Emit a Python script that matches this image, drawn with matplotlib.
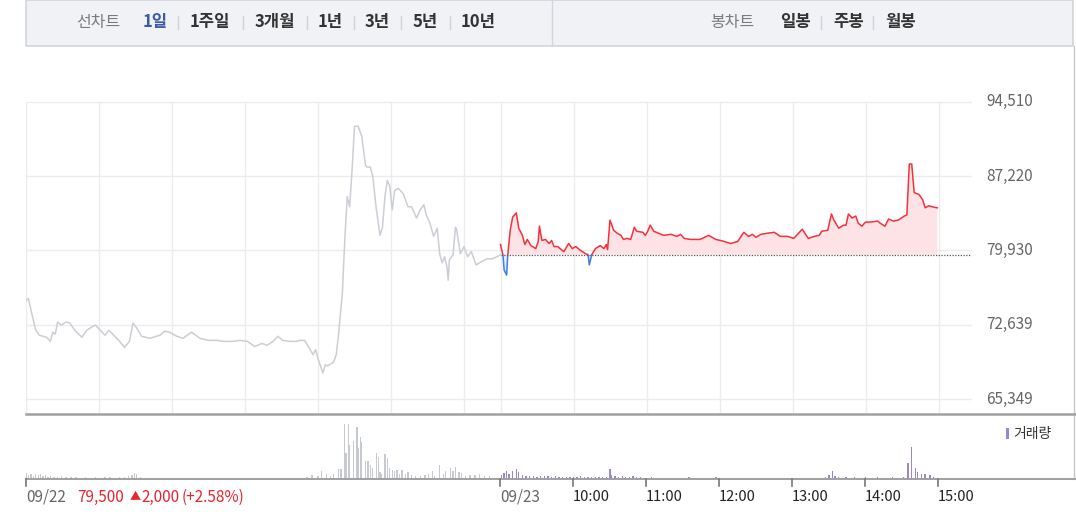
import matplotlib
matplotlib.use("Agg")
import matplotlib.pyplot as plt
from matplotlib.patches import Rectangle
import numpy as np

plt.rcParams['font.family'] = ['Noto Sans CJK KR', 'DejaVu Sans']

# ---- data ----
prev_close = 79500
y_ticks = [65349, 72639, 79930, 87220, 94510]

day1_times = ["09:00", "09:02", "09:05", "09:08", "09:11", "09:17", "09:20", "09:22", "09:24", "09:26",
              "09:29", "09:33", "09:36", "09:40", "09:46", "09:50", "09:54", "09:57", "10:01", "10:05",
              "10:08", "10:13", "10:17", "10:21", "10:25", "10:28", "10:31", "10:35", "10:42", "10:47",
              "10:50", "10:54", "10:58", "11:04", "11:09", "11:16", "11:23", "11:30", "11:37", "11:42",
              "11:50", "11:56", "12:02", "12:08", "12:14", "12:18", "12:23", "12:27", "12:31", "12:37",
              "12:42", "12:45", "12:49", "12:52", "12:56", "12:58", "13:00", "13:04", "13:06", "13:08",
              "13:13", "13:15", "13:17", "13:20", "13:22", "13:24", "13:26", "13:28", "13:30", "13:33",
              "13:36", "13:39", "13:40", "13:43", "13:45", "13:48", "13:51", "13:53", "13:55", "13:57",
              "13:59", "14:01", "14:03", "14:06", "14:10", "14:14", "14:17", "14:21", "14:24", "14:27",
              "14:29", "14:32", "14:35", "14:38", "14:40", "14:42", "14:44", "14:46", "14:47", "14:48",
              "14:51", "14:53", "14:54", "14:57", "15:00", "15:03", "15:06", "15:10", "15:14", "15:19",
              "15:23", "15:27", "15:30"]
day1_prices = [75000, 75200, 73600, 72100, 71600, 71400, 71000, 71900, 71700, 72900,
               72600, 72900, 72800, 72100, 71400, 72100, 72400, 72600, 72100, 71600,
               72100, 71500, 71000, 70400, 71000, 72800, 72300, 71500, 71300, 71500,
               71600, 72000, 71900, 71500, 71300, 71900, 71300, 71100, 71100, 71000,
               71000, 71100, 71000, 70500, 70800, 70600, 71000, 71500, 71100, 71000,
               71000, 71100, 71100, 70500, 69700, 70200, 69300, 67900, 68700, 68600,
               69000, 69700, 71800, 75700, 80900, 85200, 84200, 87800, 92100, 92100,
               91100, 88300, 88100, 88100, 87200, 83900, 81400, 82200, 85200, 86800,
               86200, 83900, 85800, 86000, 85500, 84200, 84200, 83100, 83900, 84400,
               83400, 82600, 81300, 82100, 79600, 78700, 79300, 78300, 77000, 79000,
               79500, 82200, 81900, 79600, 80300, 79300, 79800, 78500, 78800, 79100,
               79100, 79300, 79500]

day2_times = ["09:00", "09:02", "09:03", "09:05", "09:06", "09:08", "09:10", "09:13", "09:15", "09:18",
              "09:20", "09:22", "09:25", "09:29", "09:31", "09:32", "09:34", "09:37", "09:40", "09:42",
              "09:44", "09:47", "09:49", "09:52", "09:56", "09:59", "10:02", "10:06", "10:10", "10:12",
              "10:13", "10:15", "10:18", "10:22", "10:25", "10:27", "10:28", "10:30", "10:33", "10:36",
              "10:39", "10:41", "10:44", "10:47", "10:50", "10:52", "10:57", "10:59", "11:01", "11:03",
              "11:06", "11:10", "11:14", "11:20", "11:25", "11:28", "11:31", "11:36", "11:44", "11:51",
              "11:57", "12:04", "12:09", "12:15", "12:20", "12:24", "12:27", "12:30", "12:34", "12:39",
              "12:45", "12:50", "12:56", "13:01", "13:08", "13:13", "13:18", "13:22", "13:24", "13:29",
              "13:32", "13:34", "13:38", "13:42", "13:44", "13:46", "13:49", "13:52", "13:54", "13:57",
              "14:00", "14:04", "14:10", "14:12", "14:16", "14:19", "14:23", "14:27", "14:32", "14:34",
              "14:36", "14:38", "14:40", "14:44", "14:47", "14:49", "14:52", "14:55", "14:59"]
day2_prices = [80500, 79500, 78000, 77500, 79500, 81900, 83200, 83600, 82100, 81400,
               80500, 81000, 80400, 80100, 80800, 82300, 80900, 81000, 80600, 80900,
               80300, 80300, 80100, 79800, 80600, 80100, 80300, 79900, 79600, 79500,
               78500, 79500, 80100, 80400, 80100, 80500, 80000, 82900, 81900, 81600,
               81400, 81000, 81100, 81000, 82200, 81800, 81700, 81400, 81800, 82400,
               81800, 81600, 81400, 81500, 81300, 81500, 81100, 81000, 81000, 81400,
               81000, 80800, 80600, 80800, 81700, 81300, 81500, 81200, 81500, 81600,
               81700, 81300, 81300, 81100, 82000, 81100, 81300, 81400, 81800, 81900,
               83500, 82900, 82100, 82400, 82400, 83500, 83100, 83300, 82600, 82300,
               82700, 82700, 82800, 82600, 82300, 83000, 82800, 82900, 83300, 83400,
               88400, 88400, 85600, 85400, 84900, 84100, 84300, 84200, 84100]

# volume, thousand shares
day1_vol_times = ["09:00", "09:02", "09:04", "09:06", "09:08", "09:10", "09:12", "09:14", "09:16", "09:18",
                  "09:20", "09:23", "09:26", "09:29", "09:33", "09:37", "09:41", "09:45", "09:49", "09:53",
                  "09:57", "10:01", "10:05", "10:09", "10:13", "10:17", "10:21", "10:24", "10:27", "10:29",
                  "10:31", "10:34", "10:40", "11:05", "11:12", "11:25", "11:50", "12:10", "12:25", "12:35",
                  "12:51", "12:55", "13:00", "13:03", "13:07", "13:10", "13:13", "13:17", "13:19", "13:22",
                  "13:23", "13:25", "13:26", "13:29", "13:32", "13:33", "13:35", "13:36", "13:39", "13:41",
                  "13:43", "13:45", "13:48", "13:50", "13:51", "13:52", "13:55", "13:57", "13:59", "14:01",
                  "14:03", "14:05", "14:07", "14:09", "14:12", "14:14", "14:17", "14:20", "14:24", "14:28",
                  "14:31", "14:34", "14:36", "14:40", "14:43", "14:45", "14:49", "14:51", "14:53", "14:56",
                  "14:58", "15:01", "15:05", "15:09", "15:13", "15:17", "15:21"]
day1_vol = [60, 40, 50, 30, 50, 40, 50, 30, 40, 20,
            30, 20, 20, 30, 20, 20, 20, 10, 20, 10,
            20, 10, 20, 20, 10, 20, 20, 30, 40, 60,
            50, 20, 10, 10, 10, 10, 10, 10, 10, 10,
            17, 43, 30, 80, 50, 30, 50, 97, 97, 550,
            263, 550, 340, 383, 517, 307, 423, 373, 183, 183,
            140, 107, 263, 217, 73, 50, 250, 207, 107, 90,
            83, 90, 50, 90, 50, 73, 40, 30, 30, 40,
            50, 83, 30, 140, 50, 83, 107, 83, 123, 73,
            63, 30, 40, 40, 50, 30, 30]

day2_vol_times = ["09:01", "09:03", "09:05", "09:07", "09:10", "09:13", "09:15", "09:18", "09:21", "09:24",
                  "09:27", "09:30", "09:33", "09:36", "09:39", "09:42", "09:45", "09:48", "09:51", "09:54",
                  "09:57", "10:00", "10:03", "10:06", "10:09", "10:12", "10:15", "10:18", "10:21", "10:24",
                  "10:27", "10:30", "10:31", "10:34", "10:37", "10:40", "10:43", "10:46", "10:49", "10:52",
                  "10:55", "11:04", "11:35", "11:57", "12:10", "12:28", "13:08", "13:27", "13:30", "13:33",
                  "13:35", "13:38", "13:41", "13:44", "13:47", "13:51", "13:55", "14:00", "14:04", "14:10",
                  "14:16", "14:22", "14:28", "14:31", "14:35", "14:38", "14:41", "14:43", "14:46", "14:49",
                  "14:53", "14:56"]
day2_vol = [40, 63, 80, 50, 83, 97, 73, 40, 30, 30,
            30, 20, 30, 30, 30, 20, 30, 20, 20, 20,
            20, 20, 20, 30, 20, 20, 20, 20, 20, 20,
            20, 97, 40, 30, 20, 30, 20, 20, 30, 20,
            20, 20, 17, 17, 10, 10, 10, 20, 40, 83,
            30, 20, 10, 20, 10, 20, 10, 20, 10, 20,
            10, 20, 10, 20, 157, 317, 107, 73, 50, 50,
            40, 17]

tab_left = ["선차트", "1일", "1주일", "3개월", "1년", "3년", "5년", "10년"]
tab_left_x = [76, 143, 190, 255, 318, 365, 413, 461]
tab_right = ["봉차트", "일봉", "주봉", "월봉"]
tab_right_x = [710, 780, 833, 885]
hour_labels = ["10:00", "11:00", "12:00", "13:00", "14:00", "15:00"]


def to_x(t, day):
    h, m = t.split(":")
    x = int(h) - 9 + int(m) / 60
    if day == 2:
        x += 6.5
    return x


W, H = 1076, 532
fig = plt.figure(figsize=(W / 100, H / 100), dpi=100)
fig.patch.set_facecolor("white")

X_MAX = (971 - 26) / 73.0
px_val = 98.09  # won per pixel


def ax_rect(x0, y0, x1, y1):
    return [x0 / W, 1 - y1 / H, (x1 - x0) / W, (y1 - y0) / H]


# main price panel: y pixel 60..413, 94510 sits at pixel 101.7
ax = fig.add_axes(ax_rect(26, 60, 971, 413))
y_top = 94510 + (101.7 - 60) * px_val
y_bot = 94510 - (413 - 101.7) * px_val
ax.set_xlim(0, X_MAX)
ax.set_ylim(y_bot, y_top)
ax.axis("off")

grid_c = "#ececec"
grid_x = [0, 1, 2, 3, 4, 5, 6, 6.5, 7.5, 8.5, 9.5, 10.5, 11.5, 12.5]
ax.vlines(grid_x, y_bot, y_ticks[-1], color=grid_c, lw=1, zorder=1)
for v in y_ticks:
    ax.plot([0, X_MAX], [v, v], color=grid_c, lw=1, zorder=1, clip_on=False)

x1 = [to_x(t, 1) for t in day1_times]
ax.plot(x1, day1_prices, color="#cbced4", lw=1.1, zorder=3)

x2 = np.array([to_x(t, 2) for t in day2_times])
p2 = np.array(day2_prices)
ax.fill_between(x2, p2, prev_close, where=p2 >= prev_close, interpolate=True,
                color="#fde3e5", lw=0, zorder=2)
ax.fill_between(x2, p2, prev_close, where=p2 <= prev_close, interpolate=True,
                color="#e3ecfb", lw=0, zorder=2)
red, = ax.plot(x2, p2, color="#f5323c", lw=1.1, zorder=4)
blue, = ax.plot(x2, p2, color="#3d7fe6", lw=1.1, zorder=4)
red.set_clip_path(Rectangle((0, prev_close), 20, 1e6, transform=ax.transData))
blue.set_clip_path(Rectangle((0, 0), 20, prev_close, transform=ax.transData))
ax.plot([6.5, X_MAX], [prev_close, prev_close], color="#555555", lw=0.9,
        ls=(0, (1, 1.2)), zorder=5)

for v in y_ticks:
    ax.text((986 - 26) / 73.0, v, f"{v:,}", ha="left", va="center",
            fontsize=11, color="#666666", clip_on=False)

# volume panel
vax = fig.add_axes(ax_rect(26, 415, 971, 479))
vax.set_xlim(0, X_MAX)
vax.set_ylim(0, 640)
vax.axis("off")
vax.bar([to_x(t, 1) for t in day1_vol_times], day1_vol, width=0.018,
        color="#c6cad0", lw=0)
vax.bar([to_x(t, 2) for t in day2_vol_times], day2_vol, width=0.018,
        color="#9b86cf", lw=0)

# frame, header, labels in pixel coordinates
ov = fig.add_axes([0, 0, 1, 1], facecolor="none")
ov.set_xlim(0, W)
ov.set_ylim(H, 0)
ov.axis("off")

ov.add_patch(Rectangle((26, 0), 1047, 46, facecolor="#f1f2f6",
                       edgecolor="#d3d5dc", lw=1.2))
ov.plot([552, 552], [0, 46], color="#d3d5dc", lw=1)
ov.plot([1074, 1074], [46, 479], color="#c8c8c8", lw=1)
ov.plot([26, 1076], [414, 414], color="#a0a0a0", lw=1.8)
ov.plot([26, 1076], [479, 479], color="#a0a0a0", lw=1.4)

for label, x in zip(tab_left, tab_left_x):
    if label == "선차트":
        ov.text(x, 22, label, ha="left", va="center", fontsize=11.5, color="#7b7b7b")
    elif label == "1일":
        ov.text(x, 22, label, ha="left", va="center", fontsize=12,
                color="#3a5aaa", fontweight="bold")
    else:
        ov.text(x, 22, label, ha="left", va="center", fontsize=12,
                color="#333333", fontweight="bold")
for label, x in zip(tab_right, tab_right_x):
    if label == "봉차트":
        ov.text(x, 22, label, ha="left", va="center", fontsize=11.5, color="#7b7b7b")
    else:
        ov.text(x, 22, label, ha="left", va="center", fontsize=12,
                color="#333333", fontweight="bold")
for sx in [178, 243, 307, 354, 401, 450, 821, 873]:
    ov.plot([sx, sx], [16, 29], color="#d0d2d8", lw=1)

# x ticks and labels
tick_px = [26, 500] + [500 + 73 * (i + 1) for i in range(len(hour_labels))]
for tx in tick_px:
    ov.plot([tx, tx], [479, 486], color="#777777", lw=1.2)
ov.text(26, 497, "09/22", ha="left", va="center", fontsize=11, color="#666666")
ov.text(77, 497, "79,500", ha="left", va="center", fontsize=11, color="#e8262c")
ov.text(130, 497, "▲", ha="left", va="center", fontsize=8, color="#e8262c")
ov.text(141, 497, "2,000", ha="left", va="center", fontsize=11, color="#e8262c")
ov.text(182, 497, "(+2.58%)", ha="left", va="center", fontsize=11, color="#e8262c")
ov.text(500, 497, "09/23", ha="left", va="center", fontsize=11, color="#666666")
for label, tx in zip(hour_labels, tick_px[2:]):
    ov.text(tx, 497, label, ha="left", va="center", fontsize=10.5, color="#222222")

# legend
ov.add_patch(Rectangle((1006, 428), 3, 11, facecolor="#9b86cf", lw=0))
ov.text(1013, 434, "거래량", ha="left", va="center", fontsize=10, color="#333333")

fig.savefig("out.png", dpi=100, facecolor="white")
